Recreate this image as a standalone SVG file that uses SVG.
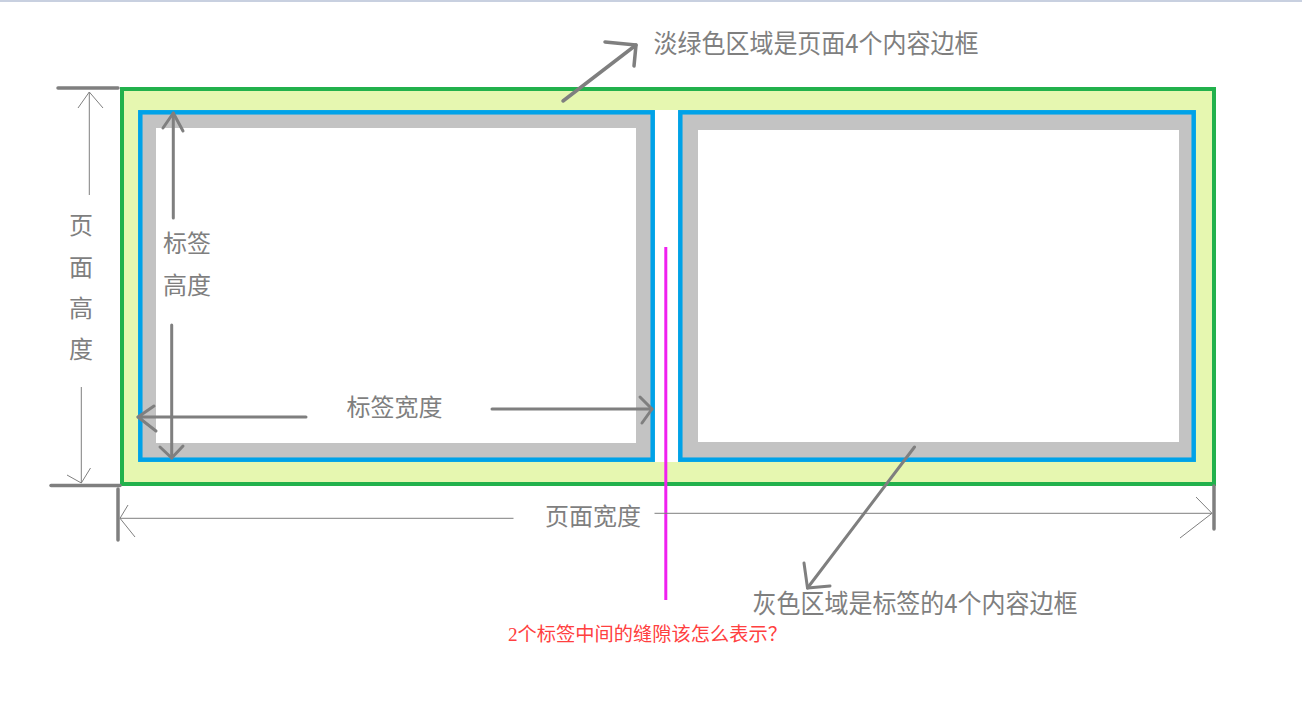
<svg xmlns="http://www.w3.org/2000/svg" width="1302" height="707" viewBox="0 0 1302 707">
  <style>
    .lbl { font-family: "Noto Sans CJK SC", "Liberation Sans", sans-serif; fill: #7f7f7f; }
    .big { font-size: 26px; }
    .mid { font-size: 24px; }
    .red { font-family: "Liberation Serif", "Noto Sans CJK SC", serif; font-size: 19px; fill: #ff4040; }
    .thick { stroke: #7f7f7f; stroke-width: 3.5; fill: none; stroke-linecap: round; stroke-linejoin: round; }
    .pen { stroke: #7f7f7f; stroke-width: 3; fill: none; stroke-linecap: round; stroke-linejoin: round; }
    .thin { stroke: #7f7f7f; stroke-width: 1; fill: none; }
    .blue { stroke: #00a2e8; stroke-width: 4.5; fill: #c3c3c3; }
  </style>
  <rect x="0" y="0" width="1302" height="707" fill="#ffffff"/>
  <rect x="0" y="0" width="1302" height="2" fill="#c8d0e0"/>

  <g id="page">
    <rect x="122" y="89" width="1092" height="395" fill="#e6f7b0" stroke="#22b14c" stroke-width="4"/>
    <rect x="655" y="110" width="23" height="352" fill="#ffffff"/>
  </g>

  <g id="label-left">
    <rect class="blue" x="140.3" y="112.3" width="512.4" height="347.4"/>
    <rect x="156" y="128" width="480" height="315" fill="#ffffff"/>
  </g>

  <g id="label-right">
    <rect class="blue" x="680.3" y="112.3" width="513.4" height="347.4"/>
    <rect x="698" y="130" width="481" height="312" fill="#ffffff"/>
  </g>

  <g id="gap-marker">
    <line x1="665.8" y1="247" x2="665.8" y2="600" stroke="#f020f0" stroke-width="3"/>
  </g>

  <g id="connectors">
    <!-- page area arrow -->
    <line class="thick" x1="563" y1="101" x2="636" y2="45"/>
    <polyline class="thick" points="605,42 636,45 634,66"/>
    <!-- label area arrow -->
    <line class="pen" x1="914.5" y1="447" x2="807.5" y2="588"/>
    <polyline class="pen" points="804,563 807.5,588 830,586"/>
    <!-- label height -->
    <line class="pen" x1="173.3" y1="113" x2="173.3" y2="218"/>
    <polyline class="pen" points="163,128 173.3,113 183,131"/>
    <line class="pen" x1="171.7" y1="325" x2="171.7" y2="458"/>
    <polyline class="pen" points="160,447 171.7,458 183,446"/>
    <!-- label width -->
    <line class="pen" x1="138" y1="417" x2="306" y2="417"/>
    <polyline class="pen" points="154,406 138,417 156,431"/>
    <line class="pen" x1="492" y1="409" x2="652" y2="409"/>
    <polyline class="pen" points="640,397 652,409 642,423"/>
    <!-- page height -->
    <line class="thick" x1="58" y1="88" x2="118" y2="88" stroke-width="4.5"/>
    <line class="thin" x1="89.3" y1="92" x2="89.3" y2="195"/>
    <polyline class="thin" points="78,108 89.3,92 103,108"/>
    <line class="thin" x1="81.3" y1="387" x2="81.3" y2="483"/>
    <polyline class="thin" points="67,475 81.3,483 90.5,468"/>
    <line class="thick" x1="51" y1="485.5" x2="120" y2="485.5" stroke-width="4.5"/>
    <!-- page width -->
    <line class="thick" x1="118" y1="489" x2="118" y2="540" stroke-width="4"/>
    <line class="thin" x1="120" y1="518.3" x2="513.5" y2="518.3"/>
    <polyline class="thin" points="128,505 120,518.3 135,537"/>
    <line class="thin" x1="654.5" y1="513.3" x2="1212" y2="513.3"/>
    <polyline class="thin" points="1196,497 1212,513.3 1180,538"/>
    <line class="thick" x1="1214" y1="486" x2="1214" y2="529" stroke-width="4"/>
  </g>

  <g id="texts">
    <text class="lbl big" x="653.5" y="53" textLength="325" lengthAdjust="spacingAndGlyphs">淡绿色区域是页面4个内容边框</text>
    <text class="lbl big" x="752.5" y="613" textLength="325" lengthAdjust="spacingAndGlyphs">灰色区域是标签的4个内容边框</text>
    <text class="lbl mid" x="81" y="234" text-anchor="middle">页</text>
    <text class="lbl mid" x="81" y="275.5" text-anchor="middle">面</text>
    <text class="lbl mid" x="81" y="316.5" text-anchor="middle">高</text>
    <text class="lbl mid" x="81" y="357.5" text-anchor="middle">度</text>
    <text class="lbl mid" x="163" y="252">标签</text>
    <text class="lbl mid" x="163" y="294">高度</text>
    <text class="lbl mid" x="346.5" y="416">标签宽度</text>
    <text class="lbl mid" x="545" y="525">页面宽度</text>
    <text class="red" x="508" y="641" textLength="279" lengthAdjust="spacingAndGlyphs">2个标签中间的缝隙该怎么表示？</text>
  </g>
</svg>
